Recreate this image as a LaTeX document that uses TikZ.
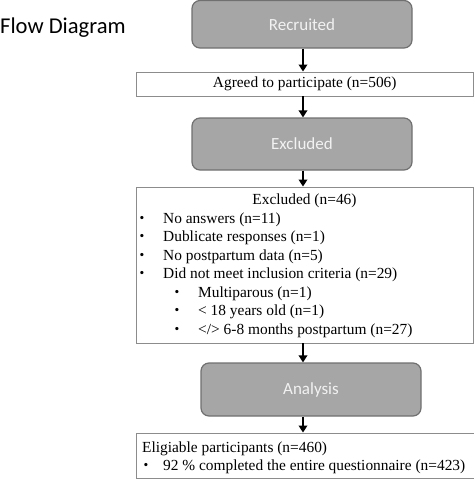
\documentclass[tikz,border=0pt]{standalone}
\usepackage{fontspec}
\setmainfont{Liberation Serif}
\newfontfamily\calibri{Carlito}
\usetikzlibrary{arrows.meta}
\definecolor{boxgray}{HTML}{A6A6A6}
\definecolor{boxedge}{HTML}{707070}
\definecolor{lightedge}{HTML}{8C8C8C}
\definecolor{labelwhite}{HTML}{F2F2F2}
\begin{document}
\begin{tikzpicture}[x=1pt,y=-1pt,
  graybox/.style={draw=boxedge, line width=1.2pt, fill=boxgray, rounded corners=8pt, inner sep=0pt,
    font=\calibri\fontsize{17}{20}\selectfont, text=labelwhite},
  whitebox/.style={draw=lightedge, line width=0.9pt, fill=white, inner sep=0pt},
  bodytext/.style={font=\fontsize{15.4}{18.5}\selectfont, inner sep=0pt, anchor=base west},
  bullet/.style={font=\fontsize{13.5}{15}\selectfont, inner sep=0pt, anchor=base, yshift=0.8pt},
  arr/.style={-{Triangle[length=7pt,width=8.5pt]}, line width=1.8pt, black}]
\useasboundingbox (0,0) rectangle (474,480);

\node[anchor=west, inner sep=0pt, font=\calibri\fontsize{22.6}{26}\selectfont] (title) at (0,28) {Flow Diagram};

\node[graybox, minimum width=220pt, minimum height=47.5pt] (rec) at (302,24.25) {Recruited};
\node[whitebox, minimum width=337.5pt, minimum height=24pt, font=\fontsize{15.4}{18.5}\selectfont] (agr) at (304.75,84) {Agreed to participate (n=506)};
\node[graybox, minimum width=220pt, minimum height=52pt] (exg) at (302,144) {Excluded};
\node[whitebox, minimum width=337pt, minimum height=156pt] (exl) at (304.5,265) {};
\node[graybox, minimum width=220pt, minimum height=53pt] (ana) at (311,389.5) {Analysis};
\node[whitebox, minimum width=340pt, minimum height=45pt] (elig) at (306,455.5) {};

% list in excluded box
\node[bodytext, anchor=base] (h1) at (304.5,204.5) {Excluded (n=46)};
\node[bullet] (b1) at (142,223) {\textbullet};
\node[bodytext] (t1) at (163,223) {No answers (n=11)};
\node[bullet] (b2) at (142,241.5) {\textbullet};
\node[bodytext] (t2) at (163,241.5) {Dublicate responses (n=1)};
\node[bullet] (b3) at (142,260) {\textbullet};
\node[bodytext] (t3) at (163,260) {No postpartum data (n=5)};
\node[bullet] (b4) at (142,278.5) {\textbullet};
\node[bodytext] (t4) at (163,278.5) {Did not meet inclusion criteria (n=29)};
\node[bullet] (b5) at (177,297) {\textbullet};
\node[bodytext] (t5) at (198,297) {Multiparous (n=1)};
\node[bullet] (b6) at (177,315.5) {\textbullet};
\node[bodytext] (t6) at (198,315.5) {< 18 years old (n=1)};
\node[bullet] (b7) at (177,334) {\textbullet};
\node[bodytext] (t7) at (198,334) {</> 6-8 months postpartum (n=27)};

% final box text
\node[bodytext] (e1) at (142,452.5) {Eligiable participants (n=460)};
\node[bullet] (b8) at (146,470.5) {\textbullet};
\node[bodytext] (e2) at (163,470.5) {92 \% completed the entire questionnaire (n=423)};

% arrows
\coordinate (ax) at (303,0);
\draw[arr] (rec.south -| ax) -- (agr.north -| ax);
\draw[arr] (agr.south -| ax) -- (exg.north -| ax);
\draw[arr] (exg.south -| ax) -- (exl.north -| ax);
\draw[arr] (exl.south -| ax) -- (ana.north -| ax);
\draw[arr] (ana.south -| ax) -- (elig.north -| ax);
\end{tikzpicture}
\end{document}
